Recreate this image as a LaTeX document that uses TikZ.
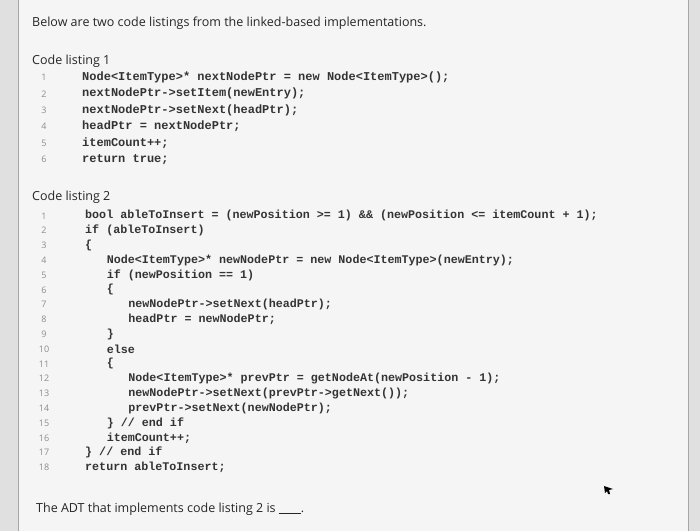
\documentclass[tikz,border=0pt]{standalone}
\usepackage{fontspec}
\setmainfont{Open Sans}
\setmonofont{Liberation Mono}
\begin{document}
\begin{tikzpicture}[x=1pt,y=-1pt,
  txt/.style={anchor=west,inner sep=0pt,font=\fontsize{12.5}{14}\selectfont,text=black!85},
  num/.style={anchor=center,inner sep=0pt,font=\fontsize{9}{10}\selectfont,text=black!45},
  code/.style={anchor=west,inner sep=0pt,font=\ttfamily\bfseries\fontsize{12}{13}\selectfont,text=black!80},
  codeb/.style={anchor=west,inner sep=0pt,font=\ttfamily\bfseries\fontsize{11.7}{13}\selectfont,text=black!80}]
\useasboundingbox (0,0) rectangle (700,531);
\fill[black!12] (0,0) rectangle (700,531);
\fill[black!4] (18,0) rectangle (688,531);
\draw[black!35] (18,-2) -- (18,531);
\draw[black!35] (688,-2) -- (688,531);
\node[txt] (intro) at (32,23) {Below are two code listings from the linked-based implementations.};
\node[txt] (h1) at (32,61) {Code listing 1};
\foreach \n/\t [count=\i] in {
  {Node<ItemType>* nextNodePtr = new Node<ItemType>();},
  {nextNodePtr->setItem(newEntry);},
  {nextNodePtr->setNext(headPtr);},
  {headPtr = nextNodePtr;},
  {itemCount++;},
  {return true;}}{
  \node[num] (a\i) at (44,{61+16.4*\i}) {\i};
  \node[code] (c\i) at (82,{61+16.4*\i}) {\n};
}
\node[txt] (h2) at (32,197) {Code listing 2};
\foreach \ind/\n [count=\i] in {
  0/{bool ableToInsert = (newPosition >= 1) \&\& (newPosition <= itemCount + 1);},
  0/{if (ableToInsert)},
  0/{\{},
  3/{Node<ItemType>* newNodePtr = new Node<ItemType>(newEntry);},
  3/{if (newPosition == 1)},
  3/{\{},
  6/{newNodePtr->setNext(headPtr);},
  6/{headPtr = newNodePtr;},
  3/{\}},
  3/{else},
  3/{\{},
  6/{Node<ItemType>* prevPtr = getNodeAt(newPosition - 1);},
  6/{newNodePtr->setNext(prevPtr->getNext());},
  6/{prevPtr->setNext(newNodePtr);},
  3/{\} // end if},
  3/{itemCount++;},
  0/{\} // end if},
  0/{return ableToInsert;}}{
  \node[num] (b\i) at (44,{201+14.8*\i}) {\i};
  \node[codeb] (d\i) at ({85+7.2*\ind},{201+14.8*\i}) {\n};
}
\node[txt] (q) at (36,509) {The ADT that implements code listing 2 is \underline{\hspace{22pt}}.};
\fill[black] (604,486) -- (613,489) -- (609,490) -- (610,494) -- (608,494) -- (607,491) -- (605,493) -- cycle;
\end{tikzpicture}
\end{document}
